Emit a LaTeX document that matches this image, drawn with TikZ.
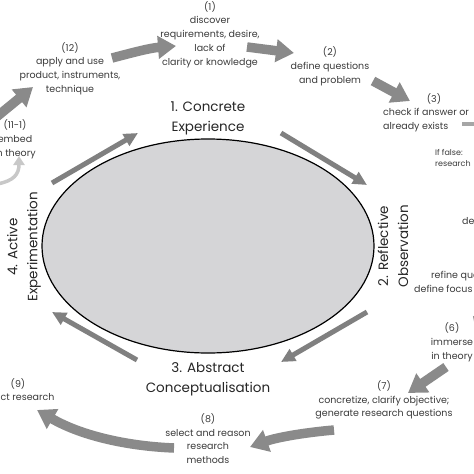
\documentclass[tikz,border=0pt]{standalone}
\usepackage{fontspec}
\setmainfont{Poppins}
\usetikzlibrary{arrows.meta,shapes.geometric}
\definecolor{arrgray}{HTML}{8A8A8A}
\definecolor{slimgray}{HTML}{808080}
\definecolor{ellfill}{HTML}{D5D5D7}
\definecolor{txt}{HTML}{3A3A3A}
\definecolor{palegray}{HTML}{C8C8C8}
\begin{document}
\begin{tikzpicture}[x=1pt,y=-1pt,
  big/.style={font=\fontsize{13.5}{20}\selectfont, align=center, text=black!85, inner sep=0pt},
  small/.style={font=\fontsize{9.5}{13.8}\selectfont, align=center, text=txt, inner sep=0pt},
  tiny/.style={font=\fontsize{8}{11.5}\selectfont, align=left, text=txt, inner sep=0pt},
  fat/.style={line width=9.5pt, draw=arrgray, -{Triangle[width=22pt,length=18pt]}},
  slim/.style={line width=5pt, draw=slimgray, -{Triangle[width=13pt,length=14pt]}},
  pale/.style={line width=3.5pt, draw=palegray, -{Triangle[width=11pt,length=9pt]}},
  bar/.style={line width=4pt, draw=black!35},
]
\useasboundingbox (0,0) rectangle (474,474);
\clip (0,0) rectangle (474,474);

% central ellipse
\node[draw, ellipse, fill=ellfill, line width=1.2pt, minimum width=332pt, minimum height=214pt, inner sep=0pt] (cyc) at (208,246) {};

% stage labels
\node[big] (c1) at (208,118) {1. Concrete\\Experience};
\node[big, rotate=90] (c2) at (393,246) {2. Reflective\\Observation};
\node[big] (c3) at (208,379) {3. Abstract\\Conceptualisation};
\node[big, rotate=90] (c4) at (24,247) {4. Active\\Experimentation};

% slim arrows around the ellipse
\coordinate (k1a) at (52,183);  \coordinate (k1b) at (138,133);
\coordinate (k2a) at (281,133); \coordinate (k2b) at (367,185);
\coordinate (k3a) at (367,312); \coordinate (k3b) at (281,362);
\coordinate (k4a) at (137,360); \coordinate (k4b) at (52,312);
\draw[slim] (k1a) -- (k1b);
\draw[slim] (k2a) -- (k2b);
\draw[slim] (k3a) -- (k3b);
\draw[slim] (k4a) -- (k4b);

% outer step labels
\node[small] (s1) at (210,34.5) {(1)\\discover\\requirements, desire,\\lack of\\clarity or knowledge};
\node[small] (s2) at (330,66.5) {(2)\\define questions\\and problem};
\node[small] (s3n) at (434,99) {(3)};
\node[small, align=left, anchor=west] (s3) at (383,120) {check if answer or\\already exists};
\node[tiny, anchor=west] (s4a) at (435,152) {If false:};
\node[tiny, anchor=west] (s4b) at (435,164) {research};
\node[small, anchor=west] (s4c) at (462,221) {define};
\node[small, anchor=west] (s5a) at (431,276) {refine questions,};
\node[small, anchor=west] (s5b) at (414,289) {define focus};
\node[small] (s6) at (452,342) {(6)\\immerse\\in theory};
\node[small] (s7) at (384,400) {(7)\\concretize, clarify objective;\\generate research questions};
\node[small] (s8) at (208,438.5) {(8)\\select and reason\\research\\methods};
\node[small] (s9) at (18,389.5) {(9)\\select research};
\node[small] (s11) at (15,139.5) {(11-1)\\embed\\in theory};
\node[small] (s12) at (70,68.5) {(12)\\apply and use\\product, instruments,\\technique};

% fat arrows of the outer cycle
\coordinate (f12a) at (112,58);  \coordinate (f12b) at (176,46);
\coordinate (f1a) at (247,47);   \coordinate (f1b) at (294,53);
\coordinate (f2a) at (373,81);   \coordinate (f2b) at (410,101);
\coordinate (f3a) at (462,124);  \coordinate (f3b) at (480,124);
\coordinate (f5a) at (494,295);  \coordinate (f5b) at (477,337);
\coordinate (f6a) at (446,367);  \coordinate (f6b) at (408,393);
\coordinate (f7a) at (334,430);  \coordinate (f7b) at (250,447);
\coordinate (f8a) at (174,448);  \coordinate (f8b) at (37,410);
\coordinate (f11a) at (-6,119);  \coordinate (f11b) at (33,87);
\coordinate (p11a) at (-3,184);  \coordinate (p11b) at (19,156);

\draw[fat] (f12a) .. controls (135,52) and (150,48) .. (f12b);
\draw[fat] (f1a) -- (f1b);
\draw[fat] (f2a) -- (f2b);
\draw[bar] (f3a) -- (f3b);
\draw[fat] (f5a) -- (f5b);
\draw[fat] (f6a) -- (f6b);
\draw[fat] (f7a) .. controls (300,433) and (275,438) .. (f7b);
\draw[fat] (f8a) .. controls (125,446) and (80,435) .. (f8b);
\draw[fat] (f11a) -- (f11b);
\draw[pale] (p11a) .. controls (14,181) and (19,174) .. (p11b);
\end{tikzpicture}
\end{document}
